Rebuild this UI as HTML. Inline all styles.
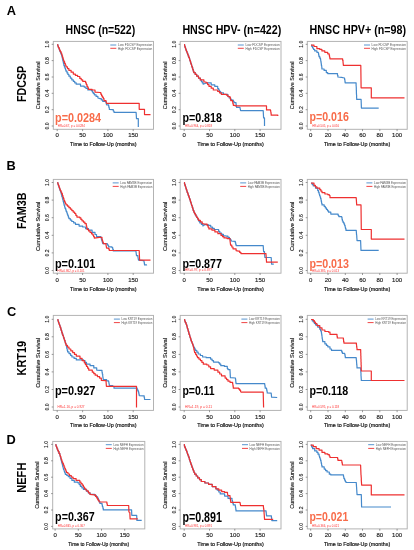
<!DOCTYPE html><html><head><meta charset="utf-8"><style>html,body{margin:0;padding:0;background:#fff;overflow:hidden;}svg{display:block;will-change:transform;filter:blur(0.3px);}text{font-family:"Liberation Sans", sans-serif;}</style></head><body>
<svg width="414" height="550" viewBox="0 0 414 550">
<rect width="414" height="550" fill="#fff"/>
<text x="65.6" y="33.7" font-size="12.9" font-weight="bold" textLength="69.6" lengthAdjust="spacingAndGlyphs">HNSC (n=522)</text>
<text x="182.4" y="33.7" font-size="12.9" font-weight="bold" textLength="98.9" lengthAdjust="spacingAndGlyphs">HNSC HPV- (n=422)</text>
<text x="309.6" y="33.7" font-size="12.9" font-weight="bold" textLength="96.5" lengthAdjust="spacingAndGlyphs">HNSC HPV+ (n=98)</text>
<text x="6.8" y="14.5" font-size="12.8" font-weight="bold">A</text>
<text transform="translate(25.9,83.9) rotate(-90)" x="-18.2" y="0" font-size="12.6" font-weight="bold" textLength="36.3" lengthAdjust="spacingAndGlyphs">FDCSP</text>
<g><rect x="53.3" y="41.4" width="100.2" height="87.9" fill="none" stroke="#b0b0b0" stroke-width="0.95"/><line x1="51.7" y1="126.0" x2="53.3" y2="126.0" stroke="#555" stroke-width="0.6"/><text transform="translate(48.7,126.0) rotate(-90)" x="-3.5" font-size="6.2" textLength="7.0" lengthAdjust="spacingAndGlyphs" fill="#222" stroke="#222" stroke-width="0.15">0.0</text><line x1="51.7" y1="109.7" x2="53.3" y2="109.7" stroke="#555" stroke-width="0.6"/><text transform="translate(48.7,109.7) rotate(-90)" x="-3.5" font-size="6.2" textLength="7.0" lengthAdjust="spacingAndGlyphs" fill="#222" stroke="#222" stroke-width="0.15">0.2</text><line x1="51.7" y1="93.3" x2="53.3" y2="93.3" stroke="#555" stroke-width="0.6"/><text transform="translate(48.7,93.3) rotate(-90)" x="-3.5" font-size="6.2" textLength="7.0" lengthAdjust="spacingAndGlyphs" fill="#222" stroke="#222" stroke-width="0.15">0.4</text><line x1="51.7" y1="77.0" x2="53.3" y2="77.0" stroke="#555" stroke-width="0.6"/><text transform="translate(48.7,77.0) rotate(-90)" x="-3.5" font-size="6.2" textLength="7.0" lengthAdjust="spacingAndGlyphs" fill="#222" stroke="#222" stroke-width="0.15">0.6</text><line x1="51.7" y1="60.6" x2="53.3" y2="60.6" stroke="#555" stroke-width="0.6"/><text transform="translate(48.7,60.6) rotate(-90)" x="-3.5" font-size="6.2" textLength="7.0" lengthAdjust="spacingAndGlyphs" fill="#222" stroke="#222" stroke-width="0.15">0.8</text><line x1="51.7" y1="44.3" x2="53.3" y2="44.3" stroke="#555" stroke-width="0.6"/><text transform="translate(48.7,44.3) rotate(-90)" x="-3.5" font-size="6.2" textLength="7.0" lengthAdjust="spacingAndGlyphs" fill="#222" stroke="#222" stroke-width="0.15">1.0</text><line x1="57.2" y1="129.3" x2="57.2" y2="131.1" stroke="#555" stroke-width="0.6"/><text x="57.2" y="136.9" font-size="6" text-anchor="middle" fill="#222" stroke="#222" stroke-width="0.15">0</text><line x1="82.6" y1="129.3" x2="82.6" y2="131.1" stroke="#555" stroke-width="0.6"/><text x="82.6" y="136.9" font-size="6" text-anchor="middle" fill="#222" stroke="#222" stroke-width="0.15">50</text><line x1="107.9" y1="129.3" x2="107.9" y2="131.1" stroke="#555" stroke-width="0.6"/><text x="107.9" y="136.9" font-size="6" text-anchor="middle" fill="#222" stroke="#222" stroke-width="0.15">100</text><line x1="133.2" y1="129.3" x2="133.2" y2="131.1" stroke="#555" stroke-width="0.6"/><text x="133.2" y="136.9" font-size="6" text-anchor="middle" fill="#222" stroke="#222" stroke-width="0.15">150</text><text x="103.3" y="145.5" font-size="5.4" text-anchor="middle" fill="#111" stroke="#111" stroke-width="0.18" textLength="66.4" lengthAdjust="spacingAndGlyphs">Time to Follow-Up (months)</text><text transform="translate(39.7,85.4) rotate(-90)" font-size="5.5" text-anchor="middle" fill="#222" stroke="#222" stroke-width="0.15" textLength="47.5" lengthAdjust="spacingAndGlyphs">Cumulative Survival</text><line x1="110.3" y1="45.0" x2="116.3" y2="45.0" stroke="#4589cb" stroke-width="0.9"/><line x1="110.3" y1="48.3" x2="116.3" y2="48.3" stroke="#ee3030" stroke-width="0.9"/><text x="117.9" y="46.2" font-size="3.3" textLength="34.4" lengthAdjust="spacingAndGlyphs" fill="#555">Low FDCSP Expression</text><text x="117.9" y="49.5" font-size="3.3" textLength="34.4" lengthAdjust="spacingAndGlyphs" fill="#555">High FDCSP Expression</text><polyline points="57.3,44.6 57.8,44.6 57.8,46.0 58.4,46.0 58.4,47.5 59.0,47.5 59.0,48.9 59.5,48.9 59.5,50.3 60.0,50.3 60.0,51.7 60.6,51.7 60.6,53.1 61.2,53.1 61.2,54.6 61.7,54.6 61.7,56.0 62.1,56.0 62.1,57.6 62.4,57.6 62.4,59.1 62.8,59.1 62.8,60.7 63.2,60.7 63.2,62.3 63.5,62.3 63.5,63.8 63.9,63.8 63.9,65.4 64.4,65.4 64.4,66.9 65.0,66.9 65.0,68.3 65.5,68.3 65.5,69.8 66.0,69.8 66.0,71.2 67.0,71.2 67.0,72.9 67.9,72.9 67.9,74.5 68.9,74.5 68.9,76.2 70.3,76.2 70.3,78.1 71.8,78.1 71.8,79.9 73.3,79.9 73.3,81.3 74.7,81.3 74.7,82.8 76.2,82.8 76.2,84.2 80.5,84.2 80.5,86.1 84.2,86.1 84.2,87.1 86.0,87.1 86.0,88.5 87.8,88.5 87.8,90.0 91.4,90.0 91.4,90.7 92.4,90.7 92.4,92.1 93.3,92.1 93.3,93.4 94.3,93.4 94.3,94.8 96.1,94.8 96.1,96.4 97.9,96.4 97.9,98.0 100.0,98.6 101.3,98.6 101.3,99.9 102.7,99.9 102.7,101.3 106.0,101.3 106.0,102.6 106.6,104.9 108.6,104.9 108.6,105.9 108.9,105.9 108.9,107.6 109.3,107.6 109.3,109.3 112.6,109.7 113.3,109.7 113.3,111.0 114.0,111.0 114.0,112.3 136.1,112.3 136.5,118.6 138.3,118.6 138.3,119.9 138.3,127.0" fill="none" stroke="#4589cb" stroke-width="1.2" stroke-linejoin="round"/><polyline points="57.3,44.6 57.8,44.6 57.8,46.0 58.4,46.0 58.4,47.4 59.0,47.4 59.0,48.7 59.5,48.7 59.5,50.1 60.2,50.1 60.2,51.6 61.0,51.6 61.0,53.0 61.7,53.0 61.7,54.5 62.1,54.5 62.1,55.9 62.6,55.9 62.6,57.4 63.0,57.4 63.0,58.8 63.5,58.8 63.5,60.3 63.9,60.3 63.9,61.7 64.6,61.7 64.6,63.4 65.3,63.4 65.3,65.1 66.0,65.1 66.0,66.8 67.5,66.8 67.5,68.6 68.9,68.6 68.9,70.4 71.1,70.4 71.1,72.2 73.3,72.2 73.3,74.1 75.4,74.1 75.4,75.3 77.6,75.3 77.6,76.5 79.8,76.5 79.8,78.4 81.2,78.4 81.2,79.8 82.7,79.8 82.7,81.3 85.6,81.3 85.6,82.8 86.3,82.8 86.3,84.6 87.0,84.6 87.0,86.4 87.8,86.4 87.8,87.8 88.5,87.8 88.5,89.3 92.1,89.3 92.1,90.0 95.0,90.0 95.0,92.2 100.1,92.5 100.8,92.5 100.8,94.2 101.6,94.2 101.6,95.8 102.4,95.8 102.4,97.2 103.3,97.2 103.3,98.6 104.0,98.6 104.0,100.6 106.0,100.6 106.0,101.3 106.6,103.3 139.2,103.3 139.2,109.3 144.5,109.3 144.5,114.6 150.5,114.6" fill="none" stroke="#ee3030" stroke-width="1.2" stroke-linejoin="round"/><text x="55.1" y="121.6" font-size="13.11" font-weight="bold" fill="#f86c4a" textLength="46.0" lengthAdjust="spacingAndGlyphs">p=0.0284</text><text x="57.8" y="126.9" font-size="2.9" fill="#f33" textLength="27" lengthAdjust="spacingAndGlyphs">HR=0.67, p = 0.0284</text></g>
<g><rect x="180.2" y="41.4" width="100.8" height="87.9" fill="none" stroke="#b0b0b0" stroke-width="0.95"/><line x1="178.6" y1="126.0" x2="180.2" y2="126.0" stroke="#555" stroke-width="0.6"/><text transform="translate(175.6,126.0) rotate(-90)" x="-3.5" font-size="6.2" textLength="7.0" lengthAdjust="spacingAndGlyphs" fill="#222" stroke="#222" stroke-width="0.15">0.0</text><line x1="178.6" y1="109.7" x2="180.2" y2="109.7" stroke="#555" stroke-width="0.6"/><text transform="translate(175.6,109.7) rotate(-90)" x="-3.5" font-size="6.2" textLength="7.0" lengthAdjust="spacingAndGlyphs" fill="#222" stroke="#222" stroke-width="0.15">0.2</text><line x1="178.6" y1="93.3" x2="180.2" y2="93.3" stroke="#555" stroke-width="0.6"/><text transform="translate(175.6,93.3) rotate(-90)" x="-3.5" font-size="6.2" textLength="7.0" lengthAdjust="spacingAndGlyphs" fill="#222" stroke="#222" stroke-width="0.15">0.4</text><line x1="178.6" y1="77.0" x2="180.2" y2="77.0" stroke="#555" stroke-width="0.6"/><text transform="translate(175.6,77.0) rotate(-90)" x="-3.5" font-size="6.2" textLength="7.0" lengthAdjust="spacingAndGlyphs" fill="#222" stroke="#222" stroke-width="0.15">0.6</text><line x1="178.6" y1="60.6" x2="180.2" y2="60.6" stroke="#555" stroke-width="0.6"/><text transform="translate(175.6,60.6) rotate(-90)" x="-3.5" font-size="6.2" textLength="7.0" lengthAdjust="spacingAndGlyphs" fill="#222" stroke="#222" stroke-width="0.15">0.8</text><line x1="178.6" y1="44.3" x2="180.2" y2="44.3" stroke="#555" stroke-width="0.6"/><text transform="translate(175.6,44.3) rotate(-90)" x="-3.5" font-size="6.2" textLength="7.0" lengthAdjust="spacingAndGlyphs" fill="#222" stroke="#222" stroke-width="0.15">1.0</text><line x1="184.2" y1="129.3" x2="184.2" y2="131.1" stroke="#555" stroke-width="0.6"/><text x="184.2" y="136.9" font-size="6" text-anchor="middle" fill="#222" stroke="#222" stroke-width="0.15">0</text><line x1="209.5" y1="129.3" x2="209.5" y2="131.1" stroke="#555" stroke-width="0.6"/><text x="209.5" y="136.9" font-size="6" text-anchor="middle" fill="#222" stroke="#222" stroke-width="0.15">50</text><line x1="234.8" y1="129.3" x2="234.8" y2="131.1" stroke="#555" stroke-width="0.6"/><text x="234.8" y="136.9" font-size="6" text-anchor="middle" fill="#222" stroke="#222" stroke-width="0.15">100</text><line x1="260.1" y1="129.3" x2="260.1" y2="131.1" stroke="#555" stroke-width="0.6"/><text x="260.1" y="136.9" font-size="6" text-anchor="middle" fill="#222" stroke="#222" stroke-width="0.15">150</text><text x="230.5" y="145.5" font-size="5.4" text-anchor="middle" fill="#111" stroke="#111" stroke-width="0.18" textLength="66.4" lengthAdjust="spacingAndGlyphs">Time to Follow-Up (months)</text><text transform="translate(166.6,85.4) rotate(-90)" font-size="5.5" text-anchor="middle" fill="#222" stroke="#222" stroke-width="0.15" textLength="47.5" lengthAdjust="spacingAndGlyphs">Cumulative Survival</text><line x1="237.8" y1="45.0" x2="243.8" y2="45.0" stroke="#4589cb" stroke-width="0.9"/><line x1="237.8" y1="48.3" x2="243.8" y2="48.3" stroke="#ee3030" stroke-width="0.9"/><text x="245.4" y="46.2" font-size="3.3" textLength="34.4" lengthAdjust="spacingAndGlyphs" fill="#555">Low FDCSP Expression</text><text x="245.4" y="49.5" font-size="3.3" textLength="34.4" lengthAdjust="spacingAndGlyphs" fill="#555">High FDCSP Expression</text><polyline points="184.1,44.6 184.6,44.6 184.6,46.0 185.1,46.0 185.1,47.4 185.5,47.4 185.5,48.8 186.0,48.8 186.0,50.2 186.5,50.2 186.5,51.6 187.1,51.6 187.1,53.0 187.7,53.0 187.7,54.5 188.2,54.5 188.2,55.9 188.8,55.9 188.8,57.4 189.4,57.4 189.4,58.8 189.8,58.8 189.8,60.3 190.3,60.3 190.3,61.7 190.7,61.7 190.7,63.2 191.2,63.2 191.2,64.6 191.6,64.6 191.6,66.1 192.2,66.1 192.2,67.7 192.7,67.7 192.7,69.3 193.2,69.3 193.2,71.0 193.8,71.0 193.8,72.6 195.2,72.6 195.2,74.4 196.7,74.4 196.7,76.2 198.5,76.2 198.5,78.1 200.3,78.1 200.3,79.9 201.3,79.9 201.3,81.3 202.2,81.3 202.2,82.8 203.2,82.8 203.2,84.2 206.8,82.8 211.2,82.8 211.2,84.9 214.8,84.9 214.8,86.4 217.7,86.4 217.7,88.6 218.7,88.6 218.7,90.0 219.6,90.0 219.6,91.5 220.6,91.5 220.6,92.9 223.5,92.9 223.5,94.3 227.8,94.3 227.8,96.5 229.2,96.5 229.2,98.0 230.7,98.0 230.7,99.4 232.6,100.0 233.3,100.0 233.3,101.3 234.0,101.3 234.0,102.6 236.0,102.6 236.0,103.3 236.6,107.3 240.0,107.3 240.0,107.9 240.6,110.6 263.2,110.6 263.6,117.9 264.5,117.9 264.5,118.6 264.5,125.9" fill="none" stroke="#4589cb" stroke-width="1.2" stroke-linejoin="round"/><polyline points="184.1,44.6 184.6,44.6 184.6,46.0 185.1,46.0 185.1,47.4 185.5,47.4 185.5,48.8 186.0,48.8 186.0,50.2 186.5,50.2 186.5,51.6 187.1,51.6 187.1,53.0 187.7,53.0 187.7,54.5 188.2,54.5 188.2,55.9 188.8,55.9 188.8,57.4 189.4,57.4 189.4,58.8 189.8,58.8 189.8,60.3 190.3,60.3 190.3,61.7 190.7,61.7 190.7,63.2 191.2,63.2 191.2,64.6 191.6,64.6 191.6,66.1 192.2,66.1 192.2,67.7 192.7,67.7 192.7,69.3 193.2,69.3 193.2,71.0 193.8,71.0 193.8,72.6 195.2,72.6 195.2,74.4 196.7,74.4 196.7,76.2 198.5,76.2 198.5,78.1 200.3,78.1 200.3,79.9 203.9,79.9 203.9,82.0 206.1,82.0 206.1,82.8 207.6,82.8 207.6,84.6 209.0,84.6 209.0,86.4 211.2,86.4 211.2,88.2 213.3,88.2 213.3,90.0 217.7,90.0 217.7,91.4 219.5,91.4 219.5,92.8 221.3,92.8 221.3,94.3 226.4,94.3 226.4,95.1 228.0,95.1 228.0,96.6 230.0,96.6 230.0,97.3 230.3,97.3 230.3,98.9 230.7,98.9 230.7,100.6 232.6,100.6 232.6,102.0 232.9,102.0 232.9,103.7 233.3,103.7 233.3,105.3 235.3,105.3 235.3,105.9 266.5,105.9 266.5,109.9 270.5,109.9 270.5,110.6 270.7,110.6 270.7,112.1 271.0,112.1 271.0,113.7 271.2,113.7 271.2,115.2 277.8,115.2 277.8,115.9" fill="none" stroke="#ee3030" stroke-width="1.2" stroke-linejoin="round"/><text x="182.4" y="121.7" font-size="12.81" font-weight="bold" fill="#000" textLength="39.6" lengthAdjust="spacingAndGlyphs">p=0.818</text><text x="185.1" y="126.9" font-size="2.9" fill="#f33" textLength="27" lengthAdjust="spacingAndGlyphs">HR=0.964, p = 0.818</text></g>
<g><rect x="307.3" y="41.4" width="99.9" height="87.9" fill="none" stroke="#b0b0b0" stroke-width="0.95"/><line x1="305.7" y1="126.0" x2="307.3" y2="126.0" stroke="#555" stroke-width="0.6"/><text transform="translate(302.7,126.0) rotate(-90)" x="-3.5" font-size="6.2" textLength="7.0" lengthAdjust="spacingAndGlyphs" fill="#222" stroke="#222" stroke-width="0.15">0.0</text><line x1="305.7" y1="109.7" x2="307.3" y2="109.7" stroke="#555" stroke-width="0.6"/><text transform="translate(302.7,109.7) rotate(-90)" x="-3.5" font-size="6.2" textLength="7.0" lengthAdjust="spacingAndGlyphs" fill="#222" stroke="#222" stroke-width="0.15">0.2</text><line x1="305.7" y1="93.3" x2="307.3" y2="93.3" stroke="#555" stroke-width="0.6"/><text transform="translate(302.7,93.3) rotate(-90)" x="-3.5" font-size="6.2" textLength="7.0" lengthAdjust="spacingAndGlyphs" fill="#222" stroke="#222" stroke-width="0.15">0.4</text><line x1="305.7" y1="77.0" x2="307.3" y2="77.0" stroke="#555" stroke-width="0.6"/><text transform="translate(302.7,77.0) rotate(-90)" x="-3.5" font-size="6.2" textLength="7.0" lengthAdjust="spacingAndGlyphs" fill="#222" stroke="#222" stroke-width="0.15">0.6</text><line x1="305.7" y1="60.6" x2="307.3" y2="60.6" stroke="#555" stroke-width="0.6"/><text transform="translate(302.7,60.6) rotate(-90)" x="-3.5" font-size="6.2" textLength="7.0" lengthAdjust="spacingAndGlyphs" fill="#222" stroke="#222" stroke-width="0.15">0.8</text><line x1="305.7" y1="44.3" x2="307.3" y2="44.3" stroke="#555" stroke-width="0.6"/><text transform="translate(302.7,44.3) rotate(-90)" x="-3.5" font-size="6.2" textLength="7.0" lengthAdjust="spacingAndGlyphs" fill="#222" stroke="#222" stroke-width="0.15">1.0</text><line x1="310.7" y1="129.3" x2="310.7" y2="131.1" stroke="#555" stroke-width="0.6"/><text x="310.7" y="136.9" font-size="6" text-anchor="middle" fill="#222" stroke="#222" stroke-width="0.15">0</text><line x1="328.0" y1="129.3" x2="328.0" y2="131.1" stroke="#555" stroke-width="0.6"/><text x="328.0" y="136.9" font-size="6" text-anchor="middle" fill="#222" stroke="#222" stroke-width="0.15">20</text><line x1="345.3" y1="129.3" x2="345.3" y2="131.1" stroke="#555" stroke-width="0.6"/><text x="345.3" y="136.9" font-size="6" text-anchor="middle" fill="#222" stroke="#222" stroke-width="0.15">40</text><line x1="362.5" y1="129.3" x2="362.5" y2="131.1" stroke="#555" stroke-width="0.6"/><text x="362.5" y="136.9" font-size="6" text-anchor="middle" fill="#222" stroke="#222" stroke-width="0.15">60</text><line x1="379.8" y1="129.3" x2="379.8" y2="131.1" stroke="#555" stroke-width="0.6"/><text x="379.8" y="136.9" font-size="6" text-anchor="middle" fill="#222" stroke="#222" stroke-width="0.15">80</text><line x1="397.1" y1="129.3" x2="397.1" y2="131.1" stroke="#555" stroke-width="0.6"/><text x="397.1" y="136.9" font-size="6" text-anchor="middle" fill="#222" stroke="#222" stroke-width="0.15">100</text><text x="357.1" y="145.5" font-size="5.4" text-anchor="middle" fill="#111" stroke="#111" stroke-width="0.18" textLength="66.4" lengthAdjust="spacingAndGlyphs">Time to Follow-Up (months)</text><text transform="translate(293.7,85.4) rotate(-90)" font-size="5.5" text-anchor="middle" fill="#222" stroke="#222" stroke-width="0.15" textLength="47.5" lengthAdjust="spacingAndGlyphs">Cumulative Survival</text><line x1="364.0" y1="45.0" x2="370.0" y2="45.0" stroke="#4589cb" stroke-width="0.9"/><line x1="364.0" y1="48.3" x2="370.0" y2="48.3" stroke="#ee3030" stroke-width="0.9"/><text x="371.6" y="46.2" font-size="3.3" textLength="34.4" lengthAdjust="spacingAndGlyphs" fill="#555">Low FDCSP Expression</text><text x="371.6" y="49.5" font-size="3.3" textLength="34.4" lengthAdjust="spacingAndGlyphs" fill="#555">High FDCSP Expression</text><polyline points="311.1,45.1 311.8,45.1 311.8,46.5 312.5,46.5 312.5,48.0 313.6,48.0 313.6,49.5 314.7,49.5 314.7,50.9 316.9,50.9 316.9,52.3 318.3,52.3 318.3,53.0 318.6,53.0 318.6,54.9 319.0,54.9 319.0,56.7 319.8,56.7 319.8,58.2 320.5,58.2 320.5,59.6 320.7,59.6 320.7,61.0 321.0,61.0 321.0,62.5 321.2,62.5 321.2,63.9 321.4,63.9 321.4,65.6 321.7,65.6 321.7,67.3 321.9,67.3 321.9,69.0 324.1,69.0 324.1,70.4 326.3,70.4 326.3,72.6 327.7,72.6 327.7,73.6 337.2,73.6 337.5,73.6 337.5,75.3 337.9,75.3 337.9,77.0 341.5,77.4 344.4,78.0 344.6,78.0 344.6,79.6 344.9,79.6 344.9,81.2 345.1,81.2 345.1,82.8 356.0,82.8 356.1,82.8 356.1,84.3 356.1,84.3 356.1,85.8 356.2,85.8 356.2,87.3 356.3,87.3 356.3,88.8 356.3,88.8 356.3,90.3 356.4,90.3 356.4,91.9 356.4,91.9 356.4,93.4 356.5,93.4 356.5,94.9 356.6,94.9 356.6,96.4 356.6,96.4 356.6,97.9 356.7,97.9 356.7,99.4 361.1,99.4 361.4,108.1 378.7,108.1" fill="none" stroke="#4589cb" stroke-width="1.2" stroke-linejoin="round"/><polyline points="311.1,45.1 314.0,45.1 314.0,46.5 316.9,46.5 316.9,48.7 319.8,48.7 319.8,49.4 321.9,49.4 321.9,50.9 324.8,50.9 324.8,52.3 327.7,52.3 327.7,53.8 329.2,53.8 329.2,55.2 329.5,55.2 329.5,57.0 329.9,57.0 329.9,58.8 342.2,58.8 342.6,58.8 342.6,60.2 343.0,60.2 343.0,61.7 343.4,65.4 360.8,65.4 361.1,87.8 371.3,87.8 371.3,97.9 404.5,97.9" fill="none" stroke="#ee3030" stroke-width="1.2" stroke-linejoin="round"/><text x="309.5" y="121.3" font-size="12.50" font-weight="bold" fill="#f86c4a" textLength="39.3" lengthAdjust="spacingAndGlyphs">p=0.016</text><text x="312.2" y="126.9" font-size="2.9" fill="#f33" textLength="27" lengthAdjust="spacingAndGlyphs">HR=0.505, p = 0.016</text></g>
<text x="6.6" y="170.0" font-size="12.8" font-weight="bold">B</text>
<text transform="translate(25.9,210.7) rotate(-90)" x="-18.3" y="0" font-size="12.6" font-weight="bold" textLength="36.6" lengthAdjust="spacingAndGlyphs">FAM3B</text>
<g><rect x="53.3" y="179.4" width="100.2" height="93.8" fill="none" stroke="#b0b0b0" stroke-width="0.95"/><line x1="51.7" y1="270.5" x2="53.3" y2="270.5" stroke="#555" stroke-width="0.6"/><text transform="translate(48.7,270.5) rotate(-90)" x="-3.5" font-size="6.2" textLength="7.0" lengthAdjust="spacingAndGlyphs" fill="#222" stroke="#222" stroke-width="0.15">0.0</text><line x1="51.7" y1="252.9" x2="53.3" y2="252.9" stroke="#555" stroke-width="0.6"/><text transform="translate(48.7,252.9) rotate(-90)" x="-3.5" font-size="6.2" textLength="7.0" lengthAdjust="spacingAndGlyphs" fill="#222" stroke="#222" stroke-width="0.15">0.2</text><line x1="51.7" y1="235.3" x2="53.3" y2="235.3" stroke="#555" stroke-width="0.6"/><text transform="translate(48.7,235.3) rotate(-90)" x="-3.5" font-size="6.2" textLength="7.0" lengthAdjust="spacingAndGlyphs" fill="#222" stroke="#222" stroke-width="0.15">0.4</text><line x1="51.7" y1="217.7" x2="53.3" y2="217.7" stroke="#555" stroke-width="0.6"/><text transform="translate(48.7,217.7) rotate(-90)" x="-3.5" font-size="6.2" textLength="7.0" lengthAdjust="spacingAndGlyphs" fill="#222" stroke="#222" stroke-width="0.15">0.6</text><line x1="51.7" y1="200.1" x2="53.3" y2="200.1" stroke="#555" stroke-width="0.6"/><text transform="translate(48.7,200.1) rotate(-90)" x="-3.5" font-size="6.2" textLength="7.0" lengthAdjust="spacingAndGlyphs" fill="#222" stroke="#222" stroke-width="0.15">0.8</text><line x1="51.7" y1="182.5" x2="53.3" y2="182.5" stroke="#555" stroke-width="0.6"/><text transform="translate(48.7,182.5) rotate(-90)" x="-3.5" font-size="6.2" textLength="7.0" lengthAdjust="spacingAndGlyphs" fill="#222" stroke="#222" stroke-width="0.15">1.0</text><line x1="57.2" y1="273.2" x2="57.2" y2="275.0" stroke="#555" stroke-width="0.6"/><text x="57.2" y="281.8" font-size="6" text-anchor="middle" fill="#222" stroke="#222" stroke-width="0.15">0</text><line x1="82.6" y1="273.2" x2="82.6" y2="275.0" stroke="#555" stroke-width="0.6"/><text x="82.6" y="281.8" font-size="6" text-anchor="middle" fill="#222" stroke="#222" stroke-width="0.15">50</text><line x1="107.9" y1="273.2" x2="107.9" y2="275.0" stroke="#555" stroke-width="0.6"/><text x="107.9" y="281.8" font-size="6" text-anchor="middle" fill="#222" stroke="#222" stroke-width="0.15">100</text><line x1="133.2" y1="273.2" x2="133.2" y2="275.0" stroke="#555" stroke-width="0.6"/><text x="133.2" y="281.8" font-size="6" text-anchor="middle" fill="#222" stroke="#222" stroke-width="0.15">150</text><text x="103.3" y="291.0" font-size="5.4" text-anchor="middle" fill="#111" stroke="#111" stroke-width="0.18" textLength="66.4" lengthAdjust="spacingAndGlyphs">Time to Follow-Up (months)</text><text transform="translate(39.7,226.3) rotate(-90)" font-size="5.5" text-anchor="middle" fill="#222" stroke="#222" stroke-width="0.15" textLength="49.2" lengthAdjust="spacingAndGlyphs">Cumulative Survival</text><line x1="112.7" y1="182.9" x2="118.7" y2="182.9" stroke="#4589cb" stroke-width="0.9"/><line x1="112.7" y1="186.4" x2="118.7" y2="186.4" stroke="#ee3030" stroke-width="0.9"/><text x="120.3" y="184.1" font-size="3.3" textLength="32.0" lengthAdjust="spacingAndGlyphs" fill="#555">Low FAM3B Expression</text><text x="120.3" y="187.6" font-size="3.3" textLength="32.0" lengthAdjust="spacingAndGlyphs" fill="#555">High FAM3B Expression</text><polyline points="57.3,182.6 57.8,182.6 57.8,184.1 58.4,184.1 58.4,185.6 58.9,185.6 58.9,187.1 59.4,187.1 59.4,188.7 59.9,188.7 59.9,190.2 60.5,190.2 60.5,191.7 61.0,191.7 61.0,193.2 61.4,193.2 61.4,194.8 61.8,194.8 61.8,196.4 62.3,196.4 62.3,198.0 62.7,198.0 62.7,199.6 63.1,199.6 63.1,201.2 63.5,201.2 63.5,202.6 63.8,202.6 63.8,204.1 64.2,204.1 64.2,205.6 64.6,205.6 64.6,207.0 65.1,207.0 65.1,208.4 65.7,208.4 65.7,209.9 66.2,209.9 66.2,211.4 66.8,211.4 66.8,212.8 67.3,212.8 67.3,214.2 67.8,214.2 67.8,215.7 68.4,215.7 68.4,217.2 68.9,217.2 68.9,218.6 70.3,218.6 70.3,220.1 71.8,220.1 71.8,221.5 73.7,221.5 73.7,222.9 75.5,222.9 75.5,224.4 79.1,224.4 79.1,226.1 82.7,226.1 82.7,227.0 85.6,227.0 85.6,228.7 88.5,228.7 88.5,230.2 92.1,230.2 92.1,232.3 95.0,232.3 95.0,234.5 96.5,234.5 96.5,236.7 100.8,236.7 100.8,237.4 101.3,237.4 101.3,238.9 101.8,238.9 101.8,240.5 102.2,240.5 102.2,242.1 102.7,242.1 102.7,243.6 107.3,243.6 107.3,244.3 107.9,244.3 107.9,245.6 108.6,245.6 108.6,246.9 112.0,246.9 112.0,247.6 112.7,247.6 112.7,249.2 113.3,249.2 113.3,250.9 135.9,250.9 136.5,255.6 137.9,255.6 137.9,256.9 138.5,260.2 143.8,260.6 144.0,260.6 144.0,262.0 144.3,262.0 144.3,263.5 144.5,263.5 144.5,264.9 146.5,264.9 146.5,265.5" fill="none" stroke="#4589cb" stroke-width="1.2" stroke-linejoin="round"/><polyline points="57.3,182.6 57.9,182.6 57.9,184.1 58.5,184.1 58.5,185.7 59.0,185.7 59.0,187.2 59.6,187.2 59.6,188.8 60.2,188.8 60.2,190.3 60.9,190.3 60.9,192.0 61.7,192.0 61.7,193.7 62.4,193.7 62.4,195.4 62.9,195.4 62.9,197.0 63.5,197.0 63.5,198.7 64.0,198.7 64.0,200.3 64.6,200.3 64.6,201.9 65.3,201.9 65.3,203.4 66.0,203.4 66.0,204.8 67.5,204.8 67.5,206.2 68.9,206.2 68.9,207.7 70.3,207.7 70.3,209.1 71.8,209.1 71.8,210.6 73.2,210.6 73.2,212.1 74.7,212.1 74.7,213.5 75.8,213.5 75.8,215.3 76.9,215.3 76.9,217.1 79.8,217.1 79.8,217.9 80.9,217.9 80.9,219.4 82.0,219.4 82.0,220.8 83.5,220.8 83.5,222.2 84.9,222.2 84.9,223.7 86.3,223.7 86.3,225.8 86.7,225.8 86.7,227.6 87.1,227.6 87.1,229.4 88.5,229.4 88.5,230.9 90.0,230.9 90.0,232.3 91.5,232.3 91.5,233.8 92.9,233.8 92.9,235.2 93.6,235.2 93.6,236.6 94.3,236.6 94.3,238.1 99.4,237.4 102.0,237.4 102.0,239.6 102.4,239.6 102.4,240.9 102.9,240.9 102.9,242.3 103.3,242.3 103.3,243.6 106.0,243.6 106.0,244.9 106.6,248.2 108.6,248.2 108.6,248.9 109.3,248.9 109.3,250.5 139.2,250.5 139.6,260.2 150.5,260.2" fill="none" stroke="#ee3030" stroke-width="1.2" stroke-linejoin="round"/><text x="54.9" y="267.6" font-size="12.96" font-weight="bold" fill="#000" textLength="40.4" lengthAdjust="spacingAndGlyphs">p=0.101</text><text x="57.6" y="271.6" font-size="2.9" fill="#f33" textLength="27" lengthAdjust="spacingAndGlyphs">HR=0.862, p = 0.101</text></g>
<g><rect x="180.2" y="179.4" width="100.8" height="93.8" fill="none" stroke="#b0b0b0" stroke-width="0.95"/><line x1="178.6" y1="270.5" x2="180.2" y2="270.5" stroke="#555" stroke-width="0.6"/><text transform="translate(175.6,270.5) rotate(-90)" x="-3.5" font-size="6.2" textLength="7.0" lengthAdjust="spacingAndGlyphs" fill="#222" stroke="#222" stroke-width="0.15">0.0</text><line x1="178.6" y1="252.9" x2="180.2" y2="252.9" stroke="#555" stroke-width="0.6"/><text transform="translate(175.6,252.9) rotate(-90)" x="-3.5" font-size="6.2" textLength="7.0" lengthAdjust="spacingAndGlyphs" fill="#222" stroke="#222" stroke-width="0.15">0.2</text><line x1="178.6" y1="235.3" x2="180.2" y2="235.3" stroke="#555" stroke-width="0.6"/><text transform="translate(175.6,235.3) rotate(-90)" x="-3.5" font-size="6.2" textLength="7.0" lengthAdjust="spacingAndGlyphs" fill="#222" stroke="#222" stroke-width="0.15">0.4</text><line x1="178.6" y1="217.7" x2="180.2" y2="217.7" stroke="#555" stroke-width="0.6"/><text transform="translate(175.6,217.7) rotate(-90)" x="-3.5" font-size="6.2" textLength="7.0" lengthAdjust="spacingAndGlyphs" fill="#222" stroke="#222" stroke-width="0.15">0.6</text><line x1="178.6" y1="200.1" x2="180.2" y2="200.1" stroke="#555" stroke-width="0.6"/><text transform="translate(175.6,200.1) rotate(-90)" x="-3.5" font-size="6.2" textLength="7.0" lengthAdjust="spacingAndGlyphs" fill="#222" stroke="#222" stroke-width="0.15">0.8</text><line x1="178.6" y1="182.5" x2="180.2" y2="182.5" stroke="#555" stroke-width="0.6"/><text transform="translate(175.6,182.5) rotate(-90)" x="-3.5" font-size="6.2" textLength="7.0" lengthAdjust="spacingAndGlyphs" fill="#222" stroke="#222" stroke-width="0.15">1.0</text><line x1="184.2" y1="273.2" x2="184.2" y2="275.0" stroke="#555" stroke-width="0.6"/><text x="184.2" y="281.8" font-size="6" text-anchor="middle" fill="#222" stroke="#222" stroke-width="0.15">0</text><line x1="209.5" y1="273.2" x2="209.5" y2="275.0" stroke="#555" stroke-width="0.6"/><text x="209.5" y="281.8" font-size="6" text-anchor="middle" fill="#222" stroke="#222" stroke-width="0.15">50</text><line x1="234.8" y1="273.2" x2="234.8" y2="275.0" stroke="#555" stroke-width="0.6"/><text x="234.8" y="281.8" font-size="6" text-anchor="middle" fill="#222" stroke="#222" stroke-width="0.15">100</text><line x1="260.1" y1="273.2" x2="260.1" y2="275.0" stroke="#555" stroke-width="0.6"/><text x="260.1" y="281.8" font-size="6" text-anchor="middle" fill="#222" stroke="#222" stroke-width="0.15">150</text><text x="230.5" y="291.0" font-size="5.4" text-anchor="middle" fill="#111" stroke="#111" stroke-width="0.18" textLength="66.4" lengthAdjust="spacingAndGlyphs">Time to Follow-Up (months)</text><text transform="translate(166.6,226.3) rotate(-90)" font-size="5.5" text-anchor="middle" fill="#222" stroke="#222" stroke-width="0.15" textLength="49.2" lengthAdjust="spacingAndGlyphs">Cumulative Survival</text><line x1="240.2" y1="182.9" x2="246.2" y2="182.9" stroke="#4589cb" stroke-width="0.9"/><line x1="240.2" y1="186.4" x2="246.2" y2="186.4" stroke="#ee3030" stroke-width="0.9"/><text x="247.8" y="184.1" font-size="3.3" textLength="32.0" lengthAdjust="spacingAndGlyphs" fill="#555">Low FAM3B Expression</text><text x="247.8" y="187.6" font-size="3.3" textLength="32.0" lengthAdjust="spacingAndGlyphs" fill="#555">High FAM3B Expression</text><polyline points="184.1,182.6 184.5,182.6 184.5,184.0 185.0,184.0 185.0,185.4 185.4,185.4 185.4,186.8 185.9,186.8 185.9,188.3 186.3,188.3 186.3,189.7 186.8,189.7 186.8,191.1 187.2,191.1 187.2,192.5 187.8,192.5 187.8,193.9 188.3,193.9 188.3,195.4 188.8,195.4 188.8,196.9 189.4,196.9 189.4,198.3 189.8,198.3 189.8,199.7 190.3,199.7 190.3,201.2 190.7,201.2 190.7,202.6 191.2,202.6 191.2,204.1 191.6,204.1 191.6,205.5 192.2,205.5 192.2,207.2 192.7,207.2 192.7,208.8 193.2,208.8 193.2,210.4 193.8,210.4 193.8,212.1 194.5,212.1 194.5,213.4 195.2,213.4 195.2,214.7 195.9,214.7 195.9,216.0 196.7,216.0 196.7,217.4 197.5,217.4 197.5,218.8 198.2,218.8 198.2,220.1 199.0,220.1 199.0,221.5 199.8,221.5 199.8,222.9 201.4,222.9 201.4,224.4 202.9,224.4 202.9,225.9 204.7,224.7 208.3,224.7 208.3,225.3 210.7,225.3 210.7,227.1 212.5,227.1 212.5,228.3 214.3,228.3 214.3,229.5 217.3,229.5 218.6,229.5 218.6,231.3 219.8,231.3 219.8,233.1 221.6,233.1 221.6,234.3 223.4,234.3 223.4,235.5 226.4,236.1 227.9,236.1 227.9,237.3 229.4,237.3 229.4,238.6 230.3,238.6 230.3,239.8 231.2,239.8 231.2,241.0 234.9,241.3 235.3,241.3 235.3,242.7 235.7,242.7 235.7,244.2 236.1,244.2 236.1,245.6 263.2,245.6 263.6,251.6 264.5,251.6 264.5,253.6 264.9,257.5 271.2,257.5 271.6,264.2 273.8,264.2" fill="none" stroke="#4589cb" stroke-width="1.2" stroke-linejoin="round"/><polyline points="184.1,182.6 184.5,182.6 184.5,184.0 185.0,184.0 185.0,185.4 185.4,185.4 185.4,186.8 185.9,186.8 185.9,188.3 186.3,188.3 186.3,189.7 186.8,189.7 186.8,191.1 187.2,191.1 187.2,192.5 187.8,192.5 187.8,193.9 188.3,193.9 188.3,195.4 188.8,195.4 188.8,196.9 189.4,196.9 189.4,198.3 189.8,198.3 189.8,199.7 190.3,199.7 190.3,201.2 190.7,201.2 190.7,202.6 191.2,202.6 191.2,204.1 191.6,204.1 191.6,205.5 192.2,205.5 192.2,207.2 192.7,207.2 192.7,208.8 193.2,208.8 193.2,210.4 193.8,210.4 193.8,212.1 194.5,212.1 194.5,213.4 195.2,213.4 195.2,214.7 195.9,214.7 195.9,216.0 196.8,216.0 196.8,217.5 197.7,217.5 197.7,218.9 198.6,218.9 198.6,220.4 200.4,220.4 200.4,221.9 202.2,221.9 202.2,223.5 204.7,224.1 207.1,224.1 207.1,225.3 208.0,225.3 208.0,227.1 208.9,227.1 208.9,228.9 211.9,228.9 211.9,230.1 214.9,230.1 214.9,231.9 217.9,231.9 217.9,233.7 221.0,233.7 221.0,235.5 222.5,235.5 222.5,236.7 224.0,236.7 224.0,237.9 227.0,237.9 227.0,238.6 230.0,238.6 230.0,240.4 230.6,245.2 231.8,245.2 231.8,247.0 233.0,247.0 233.0,248.8 236.1,248.8 236.1,250.6 238.5,251.2 239.7,251.2 239.7,252.4 240.9,252.4 240.9,253.6 265.9,253.6 266.0,253.6 266.0,255.0 266.1,255.0 266.1,256.5 266.2,256.5 266.2,257.9 266.3,257.9 266.3,259.3 266.4,259.3 266.4,260.8 266.5,260.8 266.5,262.2 277.8,262.2" fill="none" stroke="#ee3030" stroke-width="1.2" stroke-linejoin="round"/><text x="182.4" y="267.6" font-size="12.50" font-weight="bold" fill="#000" textLength="39.6" lengthAdjust="spacingAndGlyphs">p=0.877</text><text x="185.1" y="271.4" font-size="2.9" fill="#f33" textLength="27" lengthAdjust="spacingAndGlyphs">HR=0.97, p = 0.877</text></g>
<g><rect x="307.3" y="179.4" width="99.9" height="93.8" fill="none" stroke="#b0b0b0" stroke-width="0.95"/><line x1="305.7" y1="270.5" x2="307.3" y2="270.5" stroke="#555" stroke-width="0.6"/><text transform="translate(302.7,270.5) rotate(-90)" x="-3.5" font-size="6.2" textLength="7.0" lengthAdjust="spacingAndGlyphs" fill="#222" stroke="#222" stroke-width="0.15">0.0</text><line x1="305.7" y1="252.9" x2="307.3" y2="252.9" stroke="#555" stroke-width="0.6"/><text transform="translate(302.7,252.9) rotate(-90)" x="-3.5" font-size="6.2" textLength="7.0" lengthAdjust="spacingAndGlyphs" fill="#222" stroke="#222" stroke-width="0.15">0.2</text><line x1="305.7" y1="235.3" x2="307.3" y2="235.3" stroke="#555" stroke-width="0.6"/><text transform="translate(302.7,235.3) rotate(-90)" x="-3.5" font-size="6.2" textLength="7.0" lengthAdjust="spacingAndGlyphs" fill="#222" stroke="#222" stroke-width="0.15">0.4</text><line x1="305.7" y1="217.7" x2="307.3" y2="217.7" stroke="#555" stroke-width="0.6"/><text transform="translate(302.7,217.7) rotate(-90)" x="-3.5" font-size="6.2" textLength="7.0" lengthAdjust="spacingAndGlyphs" fill="#222" stroke="#222" stroke-width="0.15">0.6</text><line x1="305.7" y1="200.1" x2="307.3" y2="200.1" stroke="#555" stroke-width="0.6"/><text transform="translate(302.7,200.1) rotate(-90)" x="-3.5" font-size="6.2" textLength="7.0" lengthAdjust="spacingAndGlyphs" fill="#222" stroke="#222" stroke-width="0.15">0.8</text><line x1="305.7" y1="182.5" x2="307.3" y2="182.5" stroke="#555" stroke-width="0.6"/><text transform="translate(302.7,182.5) rotate(-90)" x="-3.5" font-size="6.2" textLength="7.0" lengthAdjust="spacingAndGlyphs" fill="#222" stroke="#222" stroke-width="0.15">1.0</text><line x1="310.7" y1="273.2" x2="310.7" y2="275.0" stroke="#555" stroke-width="0.6"/><text x="310.7" y="281.8" font-size="6" text-anchor="middle" fill="#222" stroke="#222" stroke-width="0.15">0</text><line x1="328.0" y1="273.2" x2="328.0" y2="275.0" stroke="#555" stroke-width="0.6"/><text x="328.0" y="281.8" font-size="6" text-anchor="middle" fill="#222" stroke="#222" stroke-width="0.15">20</text><line x1="345.3" y1="273.2" x2="345.3" y2="275.0" stroke="#555" stroke-width="0.6"/><text x="345.3" y="281.8" font-size="6" text-anchor="middle" fill="#222" stroke="#222" stroke-width="0.15">40</text><line x1="362.5" y1="273.2" x2="362.5" y2="275.0" stroke="#555" stroke-width="0.6"/><text x="362.5" y="281.8" font-size="6" text-anchor="middle" fill="#222" stroke="#222" stroke-width="0.15">60</text><line x1="379.8" y1="273.2" x2="379.8" y2="275.0" stroke="#555" stroke-width="0.6"/><text x="379.8" y="281.8" font-size="6" text-anchor="middle" fill="#222" stroke="#222" stroke-width="0.15">80</text><line x1="397.1" y1="273.2" x2="397.1" y2="275.0" stroke="#555" stroke-width="0.6"/><text x="397.1" y="281.8" font-size="6" text-anchor="middle" fill="#222" stroke="#222" stroke-width="0.15">100</text><text x="357.1" y="291.0" font-size="5.4" text-anchor="middle" fill="#111" stroke="#111" stroke-width="0.18" textLength="66.4" lengthAdjust="spacingAndGlyphs">Time to Follow-Up (months)</text><text transform="translate(293.7,226.3) rotate(-90)" font-size="5.5" text-anchor="middle" fill="#222" stroke="#222" stroke-width="0.15" textLength="49.2" lengthAdjust="spacingAndGlyphs">Cumulative Survival</text><line x1="366.4" y1="182.9" x2="372.4" y2="182.9" stroke="#4589cb" stroke-width="0.9"/><line x1="366.4" y1="186.4" x2="372.4" y2="186.4" stroke="#ee3030" stroke-width="0.9"/><text x="374.0" y="184.1" font-size="3.3" textLength="32.0" lengthAdjust="spacingAndGlyphs" fill="#555">Low FAM3B Expression</text><text x="374.0" y="187.6" font-size="3.3" textLength="32.0" lengthAdjust="spacingAndGlyphs" fill="#555">High FAM3B Expression</text><polyline points="311.1,183.1 312.2,183.1 312.2,184.6 313.3,184.6 313.3,186.0 315.5,186.0 315.5,188.2 317.7,188.2 317.7,190.4 318.4,190.4 318.4,192.2 319.1,192.2 319.1,194.0 319.6,194.0 319.6,195.5 320.1,195.5 320.1,196.9 320.6,196.9 320.6,198.4 321.0,198.4 321.0,200.0 321.3,200.0 321.3,201.7 321.6,201.7 321.6,203.3 322.0,203.3 322.0,204.9 324.2,204.9 324.2,206.4 325.3,206.4 325.3,207.9 326.4,207.9 326.4,209.3 327.5,209.3 327.5,210.8 328.6,210.8 328.6,212.2 330.8,212.2 330.8,214.1 337.3,214.1 338.1,214.1 338.1,215.3 338.8,215.3 338.8,216.6 341.7,216.6 341.7,217.3 342.0,217.3 342.0,219.2 342.4,219.2 342.4,221.0 343.1,221.0 343.1,222.4 343.9,222.4 343.9,223.9 344.6,223.9 344.6,225.3 345.1,225.3 345.1,227.0 345.5,227.0 345.5,228.7 346.0,228.7 346.0,230.4 356.2,230.4 356.3,230.4 356.3,231.9 356.4,231.9 356.4,233.3 356.5,233.3 356.5,234.8 356.7,234.8 356.7,236.2 356.8,236.2 356.8,237.7 356.9,237.7 356.9,239.1 357.0,239.1 357.0,240.6 360.6,240.6 361.0,250.4 378.7,250.4" fill="none" stroke="#4589cb" stroke-width="1.2" stroke-linejoin="round"/><polyline points="311.1,183.1 314.0,183.1 314.0,185.3 315.4,185.3 315.4,186.8 316.9,186.8 316.9,188.2 319.8,188.2 319.8,189.7 320.9,189.7 320.9,191.1 322.0,191.1 322.0,192.6 324.9,192.6 324.9,194.0 327.8,194.0 327.8,194.7 329.3,194.7 329.3,195.5 330.0,195.5 330.0,197.7 356.2,197.7 356.7,204.9 361.0,204.9 361.3,229.5 371.3,229.5 371.3,239.1 404.5,239.1" fill="none" stroke="#ee3030" stroke-width="1.2" stroke-linejoin="round"/><text x="309.4" y="268.1" font-size="13.27" font-weight="bold" fill="#f86c4a" textLength="39.6" lengthAdjust="spacingAndGlyphs">p=0.013</text><text x="312.1" y="271.6" font-size="2.9" fill="#f33" textLength="27" lengthAdjust="spacingAndGlyphs">HR=0.385, p = 0.013</text></g>
<text x="7.1" y="316.3" font-size="12.8" font-weight="bold">C</text>
<text transform="translate(25.9,358.2) rotate(-90)" x="-17.3" y="0" font-size="12.6" font-weight="bold" textLength="34.6" lengthAdjust="spacingAndGlyphs">KRT19</text>
<g><rect x="53.3" y="315.4" width="100.2" height="95.0" fill="none" stroke="#b0b0b0" stroke-width="0.95"/><line x1="51.7" y1="407.0" x2="53.3" y2="407.0" stroke="#555" stroke-width="0.6"/><text transform="translate(48.7,407.0) rotate(-90)" x="-3.5" font-size="6.2" textLength="7.0" lengthAdjust="spacingAndGlyphs" fill="#222" stroke="#222" stroke-width="0.15">0.0</text><line x1="51.7" y1="389.5" x2="53.3" y2="389.5" stroke="#555" stroke-width="0.6"/><text transform="translate(48.7,389.5) rotate(-90)" x="-3.5" font-size="6.2" textLength="7.0" lengthAdjust="spacingAndGlyphs" fill="#222" stroke="#222" stroke-width="0.15">0.2</text><line x1="51.7" y1="371.9" x2="53.3" y2="371.9" stroke="#555" stroke-width="0.6"/><text transform="translate(48.7,371.9) rotate(-90)" x="-3.5" font-size="6.2" textLength="7.0" lengthAdjust="spacingAndGlyphs" fill="#222" stroke="#222" stroke-width="0.15">0.4</text><line x1="51.7" y1="354.4" x2="53.3" y2="354.4" stroke="#555" stroke-width="0.6"/><text transform="translate(48.7,354.4) rotate(-90)" x="-3.5" font-size="6.2" textLength="7.0" lengthAdjust="spacingAndGlyphs" fill="#222" stroke="#222" stroke-width="0.15">0.6</text><line x1="51.7" y1="336.8" x2="53.3" y2="336.8" stroke="#555" stroke-width="0.6"/><text transform="translate(48.7,336.8) rotate(-90)" x="-3.5" font-size="6.2" textLength="7.0" lengthAdjust="spacingAndGlyphs" fill="#222" stroke="#222" stroke-width="0.15">0.8</text><line x1="51.7" y1="319.3" x2="53.3" y2="319.3" stroke="#555" stroke-width="0.6"/><text transform="translate(48.7,319.3) rotate(-90)" x="-3.5" font-size="6.2" textLength="7.0" lengthAdjust="spacingAndGlyphs" fill="#222" stroke="#222" stroke-width="0.15">1.0</text><line x1="57.2" y1="410.4" x2="57.2" y2="412.2" stroke="#555" stroke-width="0.6"/><text x="57.2" y="418.8" font-size="6" text-anchor="middle" fill="#222" stroke="#222" stroke-width="0.15">0</text><line x1="82.6" y1="410.4" x2="82.6" y2="412.2" stroke="#555" stroke-width="0.6"/><text x="82.6" y="418.8" font-size="6" text-anchor="middle" fill="#222" stroke="#222" stroke-width="0.15">50</text><line x1="107.9" y1="410.4" x2="107.9" y2="412.2" stroke="#555" stroke-width="0.6"/><text x="107.9" y="418.8" font-size="6" text-anchor="middle" fill="#222" stroke="#222" stroke-width="0.15">100</text><line x1="133.2" y1="410.4" x2="133.2" y2="412.2" stroke="#555" stroke-width="0.6"/><text x="133.2" y="418.8" font-size="6" text-anchor="middle" fill="#222" stroke="#222" stroke-width="0.15">150</text><text x="103.3" y="427.4" font-size="5.4" text-anchor="middle" fill="#111" stroke="#111" stroke-width="0.18" textLength="66.4" lengthAdjust="spacingAndGlyphs">Time to Follow-Up (months)</text><text transform="translate(39.7,362.9) rotate(-90)" font-size="5.5" text-anchor="middle" fill="#222" stroke="#222" stroke-width="0.15" textLength="49.6" lengthAdjust="spacingAndGlyphs">Cumulative Survival</text><line x1="113.9" y1="319.1" x2="119.9" y2="319.1" stroke="#4589cb" stroke-width="0.9"/><line x1="113.9" y1="322.6" x2="119.9" y2="322.6" stroke="#ee3030" stroke-width="0.9"/><text x="121.5" y="320.3" font-size="3.3" textLength="30.8" lengthAdjust="spacingAndGlyphs" fill="#555">Low KRT19 Expression</text><text x="121.5" y="323.8" font-size="3.3" textLength="30.8" lengthAdjust="spacingAndGlyphs" fill="#555">High KRT19 Expression</text><polyline points="57.4,319.5 58.0,319.5 58.0,321.0 58.5,321.0 58.5,322.6 59.0,322.6 59.0,324.1 59.6,324.1 59.6,325.6 60.1,325.6 60.1,327.2 60.7,327.2 60.7,328.9 61.2,328.9 61.2,330.6 61.7,330.6 61.7,332.2 62.2,332.2 62.2,333.9 62.8,333.9 62.8,335.5 63.4,335.5 63.4,337.1 63.9,337.1 63.9,338.8 64.5,338.8 64.5,340.4 65.0,340.4 65.0,342.1 65.5,342.1 65.5,343.7 66.1,343.7 66.1,345.3 66.5,345.3 66.5,346.9 66.8,346.9 66.8,348.6 67.2,348.6 67.2,350.2 67.6,350.2 67.6,351.9 69.0,351.9 69.0,353.6 70.5,353.6 70.5,355.3 71.9,355.3 71.9,357.0 74.1,357.0 74.1,358.4 76.3,358.4 76.3,359.9 80.7,359.9 83.6,359.9 83.6,360.6 85.0,360.6 85.0,362.4 86.5,362.4 86.5,364.2 90.1,364.2 90.1,365.7 93.8,365.7 93.8,367.9 96.7,367.9 96.7,370.1 100.0,370.3 102.0,370.3 102.0,372.3 102.3,372.3 102.3,374.0 102.7,374.0 102.7,375.6 103.3,379.6 106.6,379.6 106.6,380.9 108.6,380.9 108.6,381.6 108.8,381.6 108.8,382.9 109.1,382.9 109.1,384.3 109.3,384.3 109.3,385.6 112.6,385.6 112.6,386.3 114.0,386.3 114.0,388.2 136.5,388.2 137.2,388.2 137.2,389.6 137.8,389.6 137.8,390.9 138.5,390.9 138.5,392.2 138.8,392.2 138.8,393.9 139.2,393.9 139.2,395.6 143.8,395.8 144.2,395.8 144.2,397.6 144.5,397.6 144.5,399.3 150.5,399.5" fill="none" stroke="#4589cb" stroke-width="1.2" stroke-linejoin="round"/><polyline points="57.4,319.5 58.0,319.5 58.0,321.0 58.5,321.0 58.5,322.6 59.0,322.6 59.0,324.1 59.6,324.1 59.6,325.6 60.1,325.6 60.1,327.2 60.7,327.2 60.7,328.9 61.2,328.9 61.2,330.6 61.7,330.6 61.7,332.2 62.2,332.2 62.2,333.9 62.8,333.9 62.8,335.5 63.4,335.5 63.4,337.1 63.9,337.1 63.9,338.8 64.5,338.8 64.5,340.4 65.0,340.4 65.0,342.1 65.5,342.1 65.5,343.7 66.1,343.7 66.1,345.3 67.5,345.3 67.5,347.1 69.0,347.1 69.0,349.0 70.8,349.0 70.8,350.8 72.7,350.8 72.7,352.6 74.5,352.6 74.5,354.4 76.3,354.4 76.3,356.2 80.0,356.2 80.0,358.4 82.1,358.4 82.1,360.6 84.3,360.6 84.3,362.8 85.4,362.8 85.4,364.6 86.5,364.6 86.5,366.4 87.6,366.4 87.6,368.2 88.7,368.2 88.7,370.1 92.3,370.1 92.3,372.2 93.8,372.2 93.8,373.7 95.2,373.7 95.2,375.2 97.4,375.2 97.4,376.6 99.6,376.6 99.6,378.1 101.3,378.1 101.3,380.3 106.0,380.7 106.4,386.3 136.5,386.3 136.5,407.5" fill="none" stroke="#ee3030" stroke-width="1.2" stroke-linejoin="round"/><text x="54.9" y="394.5" font-size="12.96" font-weight="bold" fill="#000" textLength="40.4" lengthAdjust="spacingAndGlyphs">p=0.927</text><text x="57.6" y="408.1" font-size="2.9" fill="#f33" textLength="27" lengthAdjust="spacingAndGlyphs">HR=1.16, p = 0.927</text></g>
<g><rect x="180.2" y="315.4" width="100.8" height="95.0" fill="none" stroke="#b0b0b0" stroke-width="0.95"/><line x1="178.6" y1="407.0" x2="180.2" y2="407.0" stroke="#555" stroke-width="0.6"/><text transform="translate(175.6,407.0) rotate(-90)" x="-3.5" font-size="6.2" textLength="7.0" lengthAdjust="spacingAndGlyphs" fill="#222" stroke="#222" stroke-width="0.15">0.0</text><line x1="178.6" y1="389.5" x2="180.2" y2="389.5" stroke="#555" stroke-width="0.6"/><text transform="translate(175.6,389.5) rotate(-90)" x="-3.5" font-size="6.2" textLength="7.0" lengthAdjust="spacingAndGlyphs" fill="#222" stroke="#222" stroke-width="0.15">0.2</text><line x1="178.6" y1="371.9" x2="180.2" y2="371.9" stroke="#555" stroke-width="0.6"/><text transform="translate(175.6,371.9) rotate(-90)" x="-3.5" font-size="6.2" textLength="7.0" lengthAdjust="spacingAndGlyphs" fill="#222" stroke="#222" stroke-width="0.15">0.4</text><line x1="178.6" y1="354.4" x2="180.2" y2="354.4" stroke="#555" stroke-width="0.6"/><text transform="translate(175.6,354.4) rotate(-90)" x="-3.5" font-size="6.2" textLength="7.0" lengthAdjust="spacingAndGlyphs" fill="#222" stroke="#222" stroke-width="0.15">0.6</text><line x1="178.6" y1="336.8" x2="180.2" y2="336.8" stroke="#555" stroke-width="0.6"/><text transform="translate(175.6,336.8) rotate(-90)" x="-3.5" font-size="6.2" textLength="7.0" lengthAdjust="spacingAndGlyphs" fill="#222" stroke="#222" stroke-width="0.15">0.8</text><line x1="178.6" y1="319.3" x2="180.2" y2="319.3" stroke="#555" stroke-width="0.6"/><text transform="translate(175.6,319.3) rotate(-90)" x="-3.5" font-size="6.2" textLength="7.0" lengthAdjust="spacingAndGlyphs" fill="#222" stroke="#222" stroke-width="0.15">1.0</text><line x1="184.2" y1="410.4" x2="184.2" y2="412.2" stroke="#555" stroke-width="0.6"/><text x="184.2" y="418.8" font-size="6" text-anchor="middle" fill="#222" stroke="#222" stroke-width="0.15">0</text><line x1="209.5" y1="410.4" x2="209.5" y2="412.2" stroke="#555" stroke-width="0.6"/><text x="209.5" y="418.8" font-size="6" text-anchor="middle" fill="#222" stroke="#222" stroke-width="0.15">50</text><line x1="234.8" y1="410.4" x2="234.8" y2="412.2" stroke="#555" stroke-width="0.6"/><text x="234.8" y="418.8" font-size="6" text-anchor="middle" fill="#222" stroke="#222" stroke-width="0.15">100</text><line x1="260.1" y1="410.4" x2="260.1" y2="412.2" stroke="#555" stroke-width="0.6"/><text x="260.1" y="418.8" font-size="6" text-anchor="middle" fill="#222" stroke="#222" stroke-width="0.15">150</text><text x="230.5" y="427.4" font-size="5.4" text-anchor="middle" fill="#111" stroke="#111" stroke-width="0.18" textLength="66.4" lengthAdjust="spacingAndGlyphs">Time to Follow-Up (months)</text><text transform="translate(166.6,362.9) rotate(-90)" font-size="5.5" text-anchor="middle" fill="#222" stroke="#222" stroke-width="0.15" textLength="49.6" lengthAdjust="spacingAndGlyphs">Cumulative Survival</text><line x1="241.4" y1="319.1" x2="247.4" y2="319.1" stroke="#4589cb" stroke-width="0.9"/><line x1="241.4" y1="322.6" x2="247.4" y2="322.6" stroke="#ee3030" stroke-width="0.9"/><text x="249.0" y="320.3" font-size="3.3" textLength="30.8" lengthAdjust="spacingAndGlyphs" fill="#555">Low KRT19 Expression</text><text x="249.0" y="323.8" font-size="3.3" textLength="30.8" lengthAdjust="spacingAndGlyphs" fill="#555">High KRT19 Expression</text><polyline points="184.1,319.5 184.7,319.5 184.7,321.0 185.3,321.0 185.3,322.6 186.0,322.6 186.0,324.1 186.6,324.1 186.6,325.6 187.0,325.6 187.0,327.1 187.4,327.1 187.4,328.5 187.9,328.5 187.9,330.0 188.3,330.0 188.3,331.4 188.7,331.4 188.7,332.9 189.1,332.9 189.1,334.4 189.6,334.4 189.6,335.8 190.0,335.8 190.0,337.3 190.5,337.3 190.5,338.7 190.9,338.7 190.9,340.2 191.4,340.2 191.4,341.6 192.0,341.6 192.0,343.1 192.6,343.1 192.6,344.6 193.1,344.6 193.1,346.0 193.8,346.0 193.8,347.5 194.6,347.5 194.6,348.9 195.3,348.9 195.3,350.4 196.8,350.4 196.8,352.2 198.2,352.2 198.2,354.0 200.4,354.0 200.4,355.5 202.6,355.5 202.6,357.0 206.2,357.0 206.2,357.7 210.6,357.7 210.6,359.1 212.1,359.1 212.1,360.6 213.5,360.6 213.5,362.1 218.6,362.1 218.6,362.8 219.7,362.8 219.7,364.2 220.8,364.2 220.8,365.7 224.4,365.7 224.4,366.4 227.3,366.4 227.3,368.6 228.0,368.6 228.0,369.6 230.0,369.6 230.0,370.3 230.4,377.6 235.3,378.0 235.5,378.0 235.5,379.4 235.7,379.4 235.7,380.8 235.8,380.8 235.8,382.2 236.0,382.2 236.0,383.6 264.5,383.6 264.7,383.6 264.7,385.1 265.0,385.1 265.0,386.7 265.2,386.7 265.2,388.2 266.5,388.2 266.5,388.9 266.7,388.9 266.7,390.2 267.0,390.2 267.0,391.6 267.2,391.6 267.2,392.9 271.2,393.2 271.6,397.2 277.2,397.5" fill="none" stroke="#4589cb" stroke-width="1.2" stroke-linejoin="round"/><polyline points="184.1,319.5 184.7,319.5 184.7,321.0 185.3,321.0 185.3,322.6 186.0,322.6 186.0,324.1 186.6,324.1 186.6,325.6 187.0,325.6 187.0,327.1 187.4,327.1 187.4,328.5 187.9,328.5 187.9,330.0 188.3,330.0 188.3,331.4 188.7,331.4 188.7,332.9 189.1,332.9 189.1,334.4 189.6,334.4 189.6,335.8 190.0,335.8 190.0,337.3 190.5,337.3 190.5,338.7 190.9,338.7 190.9,340.2 191.4,340.2 191.4,341.6 192.0,341.6 192.0,343.1 192.6,343.1 192.6,344.6 193.1,344.6 193.1,346.0 193.5,346.0 193.5,347.6 193.8,347.6 193.8,349.3 194.2,349.3 194.2,351.0 194.6,351.0 194.6,352.6 195.6,352.6 195.6,354.3 196.5,354.3 196.5,356.0 197.5,356.0 197.5,357.7 198.9,357.7 198.9,359.1 200.4,359.1 200.4,360.6 201.9,360.6 201.9,362.4 203.3,362.4 203.3,364.2 206.9,364.2 206.9,365.0 208.8,365.0 208.8,366.8 210.6,366.8 210.6,368.6 214.2,368.6 214.2,370.1 217.9,370.1 217.9,372.2 219.7,372.2 219.7,374.0 221.5,374.0 221.5,375.9 225.1,375.9 225.1,378.1 226.6,378.1 226.6,379.6 228.0,379.6 228.0,381.2 230.0,381.2 230.0,382.3 232.6,382.3 232.6,383.6 232.8,383.6 232.8,385.1 233.1,385.1 233.1,386.7 233.3,386.7 233.3,388.2 238.6,388.2 238.6,388.9 239.6,388.9 239.6,390.2 240.6,390.2 240.6,391.6 241.3,392.2 263.2,392.2 263.6,407.5" fill="none" stroke="#ee3030" stroke-width="1.2" stroke-linejoin="round"/><text x="182.4" y="394.8" font-size="12.81" font-weight="bold" fill="#000" textLength="32.3" lengthAdjust="spacingAndGlyphs">p=0.11</text><text x="185.1" y="408.1" font-size="2.9" fill="#f33" textLength="27" lengthAdjust="spacingAndGlyphs">HR=1.19, p = 0.11</text></g>
<g><rect x="307.3" y="315.4" width="99.9" height="95.0" fill="none" stroke="#b0b0b0" stroke-width="0.95"/><line x1="305.7" y1="407.0" x2="307.3" y2="407.0" stroke="#555" stroke-width="0.6"/><text transform="translate(302.7,407.0) rotate(-90)" x="-3.5" font-size="6.2" textLength="7.0" lengthAdjust="spacingAndGlyphs" fill="#222" stroke="#222" stroke-width="0.15">0.0</text><line x1="305.7" y1="389.5" x2="307.3" y2="389.5" stroke="#555" stroke-width="0.6"/><text transform="translate(302.7,389.5) rotate(-90)" x="-3.5" font-size="6.2" textLength="7.0" lengthAdjust="spacingAndGlyphs" fill="#222" stroke="#222" stroke-width="0.15">0.2</text><line x1="305.7" y1="371.9" x2="307.3" y2="371.9" stroke="#555" stroke-width="0.6"/><text transform="translate(302.7,371.9) rotate(-90)" x="-3.5" font-size="6.2" textLength="7.0" lengthAdjust="spacingAndGlyphs" fill="#222" stroke="#222" stroke-width="0.15">0.4</text><line x1="305.7" y1="354.4" x2="307.3" y2="354.4" stroke="#555" stroke-width="0.6"/><text transform="translate(302.7,354.4) rotate(-90)" x="-3.5" font-size="6.2" textLength="7.0" lengthAdjust="spacingAndGlyphs" fill="#222" stroke="#222" stroke-width="0.15">0.6</text><line x1="305.7" y1="336.8" x2="307.3" y2="336.8" stroke="#555" stroke-width="0.6"/><text transform="translate(302.7,336.8) rotate(-90)" x="-3.5" font-size="6.2" textLength="7.0" lengthAdjust="spacingAndGlyphs" fill="#222" stroke="#222" stroke-width="0.15">0.8</text><line x1="305.7" y1="319.3" x2="307.3" y2="319.3" stroke="#555" stroke-width="0.6"/><text transform="translate(302.7,319.3) rotate(-90)" x="-3.5" font-size="6.2" textLength="7.0" lengthAdjust="spacingAndGlyphs" fill="#222" stroke="#222" stroke-width="0.15">1.0</text><line x1="310.7" y1="410.4" x2="310.7" y2="412.2" stroke="#555" stroke-width="0.6"/><text x="310.7" y="418.8" font-size="6" text-anchor="middle" fill="#222" stroke="#222" stroke-width="0.15">0</text><line x1="328.0" y1="410.4" x2="328.0" y2="412.2" stroke="#555" stroke-width="0.6"/><text x="328.0" y="418.8" font-size="6" text-anchor="middle" fill="#222" stroke="#222" stroke-width="0.15">20</text><line x1="345.3" y1="410.4" x2="345.3" y2="412.2" stroke="#555" stroke-width="0.6"/><text x="345.3" y="418.8" font-size="6" text-anchor="middle" fill="#222" stroke="#222" stroke-width="0.15">40</text><line x1="362.5" y1="410.4" x2="362.5" y2="412.2" stroke="#555" stroke-width="0.6"/><text x="362.5" y="418.8" font-size="6" text-anchor="middle" fill="#222" stroke="#222" stroke-width="0.15">60</text><line x1="379.8" y1="410.4" x2="379.8" y2="412.2" stroke="#555" stroke-width="0.6"/><text x="379.8" y="418.8" font-size="6" text-anchor="middle" fill="#222" stroke="#222" stroke-width="0.15">80</text><line x1="397.1" y1="410.4" x2="397.1" y2="412.2" stroke="#555" stroke-width="0.6"/><text x="397.1" y="418.8" font-size="6" text-anchor="middle" fill="#222" stroke="#222" stroke-width="0.15">100</text><text x="357.1" y="427.4" font-size="5.4" text-anchor="middle" fill="#111" stroke="#111" stroke-width="0.18" textLength="66.4" lengthAdjust="spacingAndGlyphs">Time to Follow-Up (months)</text><text transform="translate(293.7,362.9) rotate(-90)" font-size="5.5" text-anchor="middle" fill="#222" stroke="#222" stroke-width="0.15" textLength="49.6" lengthAdjust="spacingAndGlyphs">Cumulative Survival</text><line x1="367.6" y1="319.1" x2="373.6" y2="319.1" stroke="#4589cb" stroke-width="0.9"/><line x1="367.6" y1="322.6" x2="373.6" y2="322.6" stroke="#ee3030" stroke-width="0.9"/><text x="375.2" y="320.3" font-size="3.3" textLength="30.8" lengthAdjust="spacingAndGlyphs" fill="#555">Low KRT19 Expression</text><text x="375.2" y="323.8" font-size="3.3" textLength="30.8" lengthAdjust="spacingAndGlyphs" fill="#555">High KRT19 Expression</text><polyline points="311.1,319.5 312.2,319.5 312.2,320.8 313.3,320.8 313.3,322.0 314.4,322.0 314.4,323.4 315.5,323.4 315.5,324.9 317.7,324.9 317.7,327.1 319.8,327.1 319.8,329.3 320.6,329.3 320.6,330.8 321.3,330.8 321.3,332.2 321.5,332.2 321.5,333.9 321.8,333.9 321.8,335.6 322.0,335.6 322.0,337.3 322.2,337.3 322.2,338.8 322.5,338.8 322.5,340.2 322.7,340.2 322.7,341.7 324.9,341.7 324.9,343.9 326.4,343.9 326.4,345.4 327.8,345.4 327.8,346.8 330.0,346.8 330.0,349.0 331.5,349.0 331.5,350.4 341.0,350.4 341.7,350.4 341.7,351.9 342.4,351.9 342.4,353.3 344.6,353.3 344.6,354.0 345.0,354.0 345.0,355.9 345.3,355.9 345.3,357.7 356.2,357.7 356.2,358.4 356.3,358.4 356.3,360.0 356.5,360.0 356.5,361.6 356.6,361.6 356.6,363.1 356.7,363.1 356.7,364.7 356.9,364.7 356.9,366.3 357.0,366.3 357.0,367.9 360.6,367.9 360.6,368.6 360.7,368.6 360.7,370.1 360.8,370.1 360.8,371.6 360.9,371.6 360.9,373.1 361.0,373.1 361.0,374.6 361.0,374.6 361.0,376.0 361.1,376.0 361.1,377.5 361.2,377.5 361.2,379.0 361.3,379.0 361.3,380.5 378.7,380.5" fill="none" stroke="#4589cb" stroke-width="1.2" stroke-linejoin="round"/><polyline points="311.1,319.5 313.3,319.5 313.3,320.6 314.4,320.6 314.4,322.1 315.5,322.1 315.5,323.5 316.9,323.5 316.9,325.6 319.8,325.6 319.8,327.8 322.0,327.8 322.0,330.0 324.9,330.0 324.9,331.5 328.6,331.5 328.6,332.2 330.0,332.2 330.0,334.4 336.6,334.4 337.0,334.4 337.0,336.2 337.3,336.2 337.3,338.0 343.1,338.0 343.4,338.0 343.4,339.7 343.6,339.7 343.6,341.4 343.9,341.4 343.9,343.1 356.2,343.1 356.4,343.1 356.4,344.8 356.6,344.8 356.6,346.4 356.8,346.4 356.8,348.1 357.0,348.1 357.0,349.7 360.6,349.7 360.7,349.7 360.7,351.2 360.7,351.2 360.7,352.7 360.8,352.7 360.8,354.3 360.8,354.3 360.8,355.8 360.9,355.8 360.9,357.3 360.9,357.3 360.9,358.8 361.0,358.8 361.0,360.4 361.0,360.4 361.0,361.9 361.1,361.9 361.1,363.4 361.1,363.4 361.1,364.9 361.2,364.9 361.2,366.4 361.2,366.4 361.2,368.0 361.2,368.0 361.2,369.5 361.3,369.5 361.3,371.0 371.3,371.0 371.3,380.5 404.5,380.5" fill="none" stroke="#ee3030" stroke-width="1.2" stroke-linejoin="round"/><text x="309.4" y="394.5" font-size="12.96" font-weight="bold" fill="#000" textLength="38.9" lengthAdjust="spacingAndGlyphs">p=0.118</text><text x="312.1" y="408.1" font-size="2.9" fill="#f33" textLength="27" lengthAdjust="spacingAndGlyphs">HR=0.595, p = 0.118</text></g>
<text x="6.6" y="443.5" font-size="12.8" font-weight="bold">D</text>
<text transform="translate(25.9,477.7) rotate(-90)" x="-15.1" y="0" font-size="12.6" font-weight="bold" textLength="30.2" lengthAdjust="spacingAndGlyphs">NEFH</text>
<g><rect x="52.7" y="441.4" width="92.1" height="87.5" fill="none" stroke="#b0b0b0" stroke-width="0.95"/><line x1="51.1" y1="526.4" x2="52.7" y2="526.4" stroke="#555" stroke-width="0.6"/><text transform="translate(48.1,526.4) rotate(-90)" x="-3.5" font-size="6.2" textLength="7.0" lengthAdjust="spacingAndGlyphs" fill="#222" stroke="#222" stroke-width="0.15">0.0</text><line x1="51.1" y1="510.0" x2="52.7" y2="510.0" stroke="#555" stroke-width="0.6"/><text transform="translate(48.1,510.0) rotate(-90)" x="-3.5" font-size="6.2" textLength="7.0" lengthAdjust="spacingAndGlyphs" fill="#222" stroke="#222" stroke-width="0.15">0.2</text><line x1="51.1" y1="493.6" x2="52.7" y2="493.6" stroke="#555" stroke-width="0.6"/><text transform="translate(48.1,493.6) rotate(-90)" x="-3.5" font-size="6.2" textLength="7.0" lengthAdjust="spacingAndGlyphs" fill="#222" stroke="#222" stroke-width="0.15">0.4</text><line x1="51.1" y1="477.2" x2="52.7" y2="477.2" stroke="#555" stroke-width="0.6"/><text transform="translate(48.1,477.2) rotate(-90)" x="-3.5" font-size="6.2" textLength="7.0" lengthAdjust="spacingAndGlyphs" fill="#222" stroke="#222" stroke-width="0.15">0.6</text><line x1="51.1" y1="460.8" x2="52.7" y2="460.8" stroke="#555" stroke-width="0.6"/><text transform="translate(48.1,460.8) rotate(-90)" x="-3.5" font-size="6.2" textLength="7.0" lengthAdjust="spacingAndGlyphs" fill="#222" stroke="#222" stroke-width="0.15">0.8</text><line x1="51.1" y1="444.4" x2="52.7" y2="444.4" stroke="#555" stroke-width="0.6"/><text transform="translate(48.1,444.4) rotate(-90)" x="-3.5" font-size="6.2" textLength="7.0" lengthAdjust="spacingAndGlyphs" fill="#222" stroke="#222" stroke-width="0.15">1.0</text><line x1="55.1" y1="528.9" x2="55.1" y2="530.7" stroke="#555" stroke-width="0.6"/><text x="55.1" y="536.9" font-size="6" text-anchor="middle" fill="#222" stroke="#222" stroke-width="0.15">0</text><line x1="78.3" y1="528.9" x2="78.3" y2="530.7" stroke="#555" stroke-width="0.6"/><text x="78.3" y="536.9" font-size="6" text-anchor="middle" fill="#222" stroke="#222" stroke-width="0.15">50</text><line x1="101.5" y1="528.9" x2="101.5" y2="530.7" stroke="#555" stroke-width="0.6"/><text x="101.5" y="536.9" font-size="6" text-anchor="middle" fill="#222" stroke="#222" stroke-width="0.15">100</text><line x1="124.7" y1="528.9" x2="124.7" y2="530.7" stroke="#555" stroke-width="0.6"/><text x="124.7" y="536.9" font-size="6" text-anchor="middle" fill="#222" stroke="#222" stroke-width="0.15">150</text><text x="98.7" y="545.5" font-size="5.4" text-anchor="middle" fill="#111" stroke="#111" stroke-width="0.18" textLength="60.8" lengthAdjust="spacingAndGlyphs">Time to Follow-Up (months)</text><text transform="translate(39.1,485.1) rotate(-90)" font-size="5.5" text-anchor="middle" fill="#222" stroke="#222" stroke-width="0.15" textLength="47.2" lengthAdjust="spacingAndGlyphs">Cumulative Survival</text><line x1="105.8" y1="444.7" x2="111.8" y2="444.7" stroke="#4589cb" stroke-width="0.9"/><line x1="105.8" y1="448.4" x2="111.8" y2="448.4" stroke="#ee3030" stroke-width="0.9"/><text x="113.4" y="445.9" font-size="3.3" textLength="30.2" lengthAdjust="spacingAndGlyphs" fill="#555">Low NEFH Expression</text><text x="113.4" y="449.6" font-size="3.3" textLength="30.2" lengthAdjust="spacingAndGlyphs" fill="#555">High NEFH Expression</text><polyline points="55.4,444.7 56.0,444.7 56.0,446.1 56.6,446.1 56.6,447.5 57.1,447.5 57.1,448.9 57.7,448.9 57.7,450.3 58.3,450.3 58.3,451.7 59.0,451.7 59.0,453.4 59.8,453.4 59.8,455.0 60.2,455.0 60.2,456.4 60.5,456.4 60.5,457.9 60.9,457.9 60.9,459.3 61.2,459.3 61.2,460.8 61.6,460.8 61.6,462.2 62.0,462.2 62.0,463.7 62.4,463.7 62.4,465.1 62.7,465.1 62.7,466.6 63.1,466.6 63.1,468.0 63.5,468.0 63.5,469.5 64.1,469.5 64.1,471.1 64.7,471.1 64.7,472.7 65.3,472.7 65.3,474.3 66.8,474.3 66.8,475.5 68.3,475.5 68.3,476.7 70.1,476.7 70.1,478.5 71.9,478.5 71.9,480.4 74.3,480.4 74.3,482.2 77.9,482.2 77.9,482.8 79.2,482.8 79.2,484.6 80.4,484.6 80.4,486.4 81.9,486.4 81.9,487.9 83.4,487.9 83.4,489.4 86.4,489.4 86.4,491.2 88.2,491.2 88.2,492.8 90.0,492.8 90.0,494.3 94.7,494.3 94.7,495.3 96.2,495.3 96.2,496.8 97.6,496.8 97.6,498.2 98.3,498.2 98.3,499.9 99.1,499.9 99.1,501.6 99.8,501.6 99.8,503.3 102.0,503.3 102.0,504.8 102.4,504.8 102.4,506.5 102.9,506.5 102.9,508.2 103.3,508.2 103.3,509.9 130.9,509.9 131.6,509.9 131.6,510.6 131.8,515.3 136.7,515.3 136.9,520.4 141.7,520.4" fill="none" stroke="#4589cb" stroke-width="1.2" stroke-linejoin="round"/><polyline points="55.4,444.7 56.0,444.7 56.0,446.1 56.6,446.1 56.6,447.5 57.1,447.5 57.1,448.9 57.7,448.9 57.7,450.3 58.3,450.3 58.3,451.7 59.0,451.7 59.0,453.4 59.8,453.4 59.8,455.0 60.3,455.0 60.3,456.4 60.8,456.4 60.8,457.9 61.2,457.9 61.2,459.3 61.7,459.3 61.7,460.8 62.2,460.8 62.2,462.2 62.8,462.2 62.8,463.7 63.5,463.7 63.5,465.2 64.1,465.2 64.1,466.8 64.7,466.8 64.7,468.3 65.3,468.3 65.3,469.7 65.9,469.7 65.9,471.1 66.5,471.1 66.5,472.5 68.0,472.5 68.0,474.0 69.5,474.0 69.5,475.5 71.3,475.5 71.3,477.1 73.1,477.1 73.1,478.6 76.1,478.6 76.1,480.4 79.8,480.4 79.8,482.2 81.0,482.2 81.0,483.7 82.2,483.7 82.2,485.2 83.4,485.2 83.4,487.0 84.6,487.0 84.6,488.8 85.8,488.8 85.8,490.0 87.0,490.0 87.0,491.2 88.5,491.2 88.5,492.8 90.0,492.8 90.0,494.3 94.3,494.9 95.5,494.9 95.5,496.4 96.7,496.4 96.7,497.9 97.5,497.9 97.5,499.2 98.3,499.2 98.3,500.5 99.1,500.5 99.1,501.8 106.6,502.0 106.9,502.0 106.9,503.8 107.3,503.8 107.3,505.5 128.7,505.5 128.9,512.0 129.8,512.4 130.1,518.9 137.8,518.9" fill="none" stroke="#ee3030" stroke-width="1.2" stroke-linejoin="round"/><text x="55.1" y="521.3" font-size="13.42" font-weight="bold" fill="#000" textLength="39.6" lengthAdjust="spacingAndGlyphs">p=0.367</text><text x="57.8" y="527.4" font-size="2.9" fill="#f33" textLength="27" lengthAdjust="spacingAndGlyphs">HR=0.845, p = 0.367</text></g>
<g><rect x="180.2" y="441.4" width="100.8" height="87.5" fill="none" stroke="#b0b0b0" stroke-width="0.95"/><line x1="178.6" y1="526.4" x2="180.2" y2="526.4" stroke="#555" stroke-width="0.6"/><text transform="translate(175.6,526.4) rotate(-90)" x="-3.5" font-size="6.2" textLength="7.0" lengthAdjust="spacingAndGlyphs" fill="#222" stroke="#222" stroke-width="0.15">0.0</text><line x1="178.6" y1="510.0" x2="180.2" y2="510.0" stroke="#555" stroke-width="0.6"/><text transform="translate(175.6,510.0) rotate(-90)" x="-3.5" font-size="6.2" textLength="7.0" lengthAdjust="spacingAndGlyphs" fill="#222" stroke="#222" stroke-width="0.15">0.2</text><line x1="178.6" y1="493.6" x2="180.2" y2="493.6" stroke="#555" stroke-width="0.6"/><text transform="translate(175.6,493.6) rotate(-90)" x="-3.5" font-size="6.2" textLength="7.0" lengthAdjust="spacingAndGlyphs" fill="#222" stroke="#222" stroke-width="0.15">0.4</text><line x1="178.6" y1="477.2" x2="180.2" y2="477.2" stroke="#555" stroke-width="0.6"/><text transform="translate(175.6,477.2) rotate(-90)" x="-3.5" font-size="6.2" textLength="7.0" lengthAdjust="spacingAndGlyphs" fill="#222" stroke="#222" stroke-width="0.15">0.6</text><line x1="178.6" y1="460.8" x2="180.2" y2="460.8" stroke="#555" stroke-width="0.6"/><text transform="translate(175.6,460.8) rotate(-90)" x="-3.5" font-size="6.2" textLength="7.0" lengthAdjust="spacingAndGlyphs" fill="#222" stroke="#222" stroke-width="0.15">0.8</text><line x1="178.6" y1="444.4" x2="180.2" y2="444.4" stroke="#555" stroke-width="0.6"/><text transform="translate(175.6,444.4) rotate(-90)" x="-3.5" font-size="6.2" textLength="7.0" lengthAdjust="spacingAndGlyphs" fill="#222" stroke="#222" stroke-width="0.15">1.0</text><line x1="184.2" y1="528.9" x2="184.2" y2="530.7" stroke="#555" stroke-width="0.6"/><text x="184.2" y="536.9" font-size="6" text-anchor="middle" fill="#222" stroke="#222" stroke-width="0.15">0</text><line x1="209.5" y1="528.9" x2="209.5" y2="530.7" stroke="#555" stroke-width="0.6"/><text x="209.5" y="536.9" font-size="6" text-anchor="middle" fill="#222" stroke="#222" stroke-width="0.15">50</text><line x1="234.8" y1="528.9" x2="234.8" y2="530.7" stroke="#555" stroke-width="0.6"/><text x="234.8" y="536.9" font-size="6" text-anchor="middle" fill="#222" stroke="#222" stroke-width="0.15">100</text><line x1="260.1" y1="528.9" x2="260.1" y2="530.7" stroke="#555" stroke-width="0.6"/><text x="260.1" y="536.9" font-size="6" text-anchor="middle" fill="#222" stroke="#222" stroke-width="0.15">150</text><text x="230.5" y="545.5" font-size="5.4" text-anchor="middle" fill="#111" stroke="#111" stroke-width="0.18" textLength="66.4" lengthAdjust="spacingAndGlyphs">Time to Follow-Up (months)</text><text transform="translate(166.6,485.1) rotate(-90)" font-size="5.5" text-anchor="middle" fill="#222" stroke="#222" stroke-width="0.15" textLength="47.2" lengthAdjust="spacingAndGlyphs">Cumulative Survival</text><line x1="242.0" y1="444.7" x2="248.0" y2="444.7" stroke="#4589cb" stroke-width="0.9"/><line x1="242.0" y1="448.4" x2="248.0" y2="448.4" stroke="#ee3030" stroke-width="0.9"/><text x="249.6" y="445.9" font-size="3.3" textLength="30.2" lengthAdjust="spacingAndGlyphs" fill="#555">Low NEFH Expression</text><text x="249.6" y="449.6" font-size="3.3" textLength="30.2" lengthAdjust="spacingAndGlyphs" fill="#555">High NEFH Expression</text><polyline points="183.8,444.7 184.4,444.7 184.4,446.1 184.9,446.1 184.9,447.4 185.4,447.4 185.4,448.8 186.0,448.8 186.0,450.2 186.6,450.2 186.6,451.6 187.1,451.6 187.1,453.1 187.6,453.1 187.6,454.6 188.2,454.6 188.2,456.0 188.8,456.0 188.8,457.6 189.3,457.6 189.3,459.3 189.8,459.3 189.8,461.0 190.4,461.0 190.4,462.6 190.9,462.6 190.9,464.2 191.5,464.2 191.5,465.9 192.1,465.9 192.1,467.5 192.6,467.5 192.6,469.1 193.3,469.1 193.3,470.8 194.0,470.8 194.0,472.5 194.7,472.5 194.7,474.2 196.2,474.2 196.2,476.0 197.7,476.0 197.7,477.9 199.5,477.9 199.5,479.7 201.3,479.7 201.3,481.5 204.9,481.5 204.9,483.0 208.6,483.0 208.6,484.4 212.2,484.4 212.2,486.6 215.9,486.6 215.9,488.8 217.3,488.8 217.3,490.2 218.8,490.2 218.8,492.0 220.2,492.0 220.2,493.9 224.6,493.9 224.6,496.1 228.0,496.1 228.0,498.3 230.7,498.3 232.0,498.3 232.0,500.3 232.4,500.3 232.4,501.8 232.9,501.8 232.9,503.4 233.3,503.4 233.3,504.9 235.3,504.9 235.3,506.3 235.5,506.3 235.5,507.8 235.8,507.8 235.8,509.4 236.0,509.4 236.0,510.9 265.9,510.9 266.1,510.9 266.1,512.5 266.3,512.5 266.3,514.2 266.5,514.2 266.5,515.8 271.2,515.8 271.4,515.8 271.4,517.4 271.6,517.4 271.6,519.0 271.8,519.0 271.8,520.6 277.2,520.6" fill="none" stroke="#4589cb" stroke-width="1.2" stroke-linejoin="round"/><polyline points="183.8,444.7 184.4,444.7 184.4,446.1 184.9,446.1 184.9,447.4 185.4,447.4 185.4,448.8 186.0,448.8 186.0,450.2 186.6,450.2 186.6,451.6 187.1,451.6 187.1,453.1 187.6,453.1 187.6,454.6 188.2,454.6 188.2,456.0 188.8,456.0 188.8,457.6 189.3,457.6 189.3,459.3 189.8,459.3 189.8,461.0 190.4,461.0 190.4,462.6 190.9,462.6 190.9,464.2 191.5,464.2 191.5,465.9 192.1,465.9 192.1,467.5 192.6,467.5 192.6,469.1 193.3,469.1 193.3,470.8 194.0,470.8 194.0,472.5 194.7,472.5 194.7,474.2 196.2,474.2 196.2,476.0 197.7,476.0 197.7,477.9 199.5,477.9 199.5,479.7 201.3,479.7 201.3,481.5 204.9,481.5 204.9,483.0 208.6,483.0 208.6,484.4 212.2,484.4 212.2,486.6 215.9,486.6 215.9,488.8 218.8,488.8 218.8,490.2 221.7,490.2 221.7,491.7 224.6,491.7 224.6,492.4 227.5,492.4 227.5,493.9 228.0,495.6 230.0,495.6 230.0,497.0 230.2,497.0 230.2,498.3 230.3,498.3 230.3,499.6 230.5,499.6 230.5,501.0 230.7,501.0 230.7,502.3 240.0,502.3 240.6,505.6 263.2,505.6 263.4,505.6 263.4,506.9 263.5,506.9 263.5,508.2 263.7,508.2 263.7,509.6 263.9,509.6 263.9,510.9 264.0,510.9 264.0,512.3 264.1,512.3 264.1,513.7 264.2,513.7 264.2,515.1 264.3,515.1 264.3,516.5 264.4,516.5 264.4,517.9 264.5,517.9 264.5,519.3 273.2,519.3" fill="none" stroke="#ee3030" stroke-width="1.2" stroke-linejoin="round"/><text x="182.4" y="521.5" font-size="13.73" font-weight="bold" fill="#000" textLength="39.6" lengthAdjust="spacingAndGlyphs">p=0.891</text><text x="185.1" y="527.4" font-size="2.9" fill="#f33" textLength="27" lengthAdjust="spacingAndGlyphs">HR=0.981, p = 0.891</text></g>
<g><rect x="307.3" y="441.4" width="99.9" height="87.5" fill="none" stroke="#b0b0b0" stroke-width="0.95"/><line x1="305.7" y1="526.4" x2="307.3" y2="526.4" stroke="#555" stroke-width="0.6"/><text transform="translate(302.7,526.4) rotate(-90)" x="-3.5" font-size="6.2" textLength="7.0" lengthAdjust="spacingAndGlyphs" fill="#222" stroke="#222" stroke-width="0.15">0.0</text><line x1="305.7" y1="510.0" x2="307.3" y2="510.0" stroke="#555" stroke-width="0.6"/><text transform="translate(302.7,510.0) rotate(-90)" x="-3.5" font-size="6.2" textLength="7.0" lengthAdjust="spacingAndGlyphs" fill="#222" stroke="#222" stroke-width="0.15">0.2</text><line x1="305.7" y1="493.6" x2="307.3" y2="493.6" stroke="#555" stroke-width="0.6"/><text transform="translate(302.7,493.6) rotate(-90)" x="-3.5" font-size="6.2" textLength="7.0" lengthAdjust="spacingAndGlyphs" fill="#222" stroke="#222" stroke-width="0.15">0.4</text><line x1="305.7" y1="477.2" x2="307.3" y2="477.2" stroke="#555" stroke-width="0.6"/><text transform="translate(302.7,477.2) rotate(-90)" x="-3.5" font-size="6.2" textLength="7.0" lengthAdjust="spacingAndGlyphs" fill="#222" stroke="#222" stroke-width="0.15">0.6</text><line x1="305.7" y1="460.8" x2="307.3" y2="460.8" stroke="#555" stroke-width="0.6"/><text transform="translate(302.7,460.8) rotate(-90)" x="-3.5" font-size="6.2" textLength="7.0" lengthAdjust="spacingAndGlyphs" fill="#222" stroke="#222" stroke-width="0.15">0.8</text><line x1="305.7" y1="444.4" x2="307.3" y2="444.4" stroke="#555" stroke-width="0.6"/><text transform="translate(302.7,444.4) rotate(-90)" x="-3.5" font-size="6.2" textLength="7.0" lengthAdjust="spacingAndGlyphs" fill="#222" stroke="#222" stroke-width="0.15">1.0</text><line x1="310.7" y1="528.9" x2="310.7" y2="530.7" stroke="#555" stroke-width="0.6"/><text x="310.7" y="536.9" font-size="6" text-anchor="middle" fill="#222" stroke="#222" stroke-width="0.15">0</text><line x1="328.0" y1="528.9" x2="328.0" y2="530.7" stroke="#555" stroke-width="0.6"/><text x="328.0" y="536.9" font-size="6" text-anchor="middle" fill="#222" stroke="#222" stroke-width="0.15">20</text><line x1="345.3" y1="528.9" x2="345.3" y2="530.7" stroke="#555" stroke-width="0.6"/><text x="345.3" y="536.9" font-size="6" text-anchor="middle" fill="#222" stroke="#222" stroke-width="0.15">40</text><line x1="362.5" y1="528.9" x2="362.5" y2="530.7" stroke="#555" stroke-width="0.6"/><text x="362.5" y="536.9" font-size="6" text-anchor="middle" fill="#222" stroke="#222" stroke-width="0.15">60</text><line x1="379.8" y1="528.9" x2="379.8" y2="530.7" stroke="#555" stroke-width="0.6"/><text x="379.8" y="536.9" font-size="6" text-anchor="middle" fill="#222" stroke="#222" stroke-width="0.15">80</text><line x1="397.1" y1="528.9" x2="397.1" y2="530.7" stroke="#555" stroke-width="0.6"/><text x="397.1" y="536.9" font-size="6" text-anchor="middle" fill="#222" stroke="#222" stroke-width="0.15">100</text><text x="357.1" y="545.5" font-size="5.4" text-anchor="middle" fill="#111" stroke="#111" stroke-width="0.18" textLength="66.4" lengthAdjust="spacingAndGlyphs">Time to Follow-Up (months)</text><text transform="translate(293.7,485.1) rotate(-90)" font-size="5.5" text-anchor="middle" fill="#222" stroke="#222" stroke-width="0.15" textLength="47.2" lengthAdjust="spacingAndGlyphs">Cumulative Survival</text><line x1="368.2" y1="444.7" x2="374.2" y2="444.7" stroke="#4589cb" stroke-width="0.9"/><line x1="368.2" y1="448.4" x2="374.2" y2="448.4" stroke="#ee3030" stroke-width="0.9"/><text x="375.8" y="445.9" font-size="3.3" textLength="30.2" lengthAdjust="spacingAndGlyphs" fill="#555">Low NEFH Expression</text><text x="375.8" y="449.6" font-size="3.3" textLength="30.2" lengthAdjust="spacingAndGlyphs" fill="#555">High NEFH Expression</text><polyline points="310.7,445.1 311.6,445.1 311.6,446.9 312.6,446.9 312.6,448.7 314.7,448.7 314.7,450.9 316.9,450.9 316.9,452.4 318.0,452.4 318.0,454.2 319.1,454.2 319.1,456.0 319.6,456.0 319.6,457.5 320.1,457.5 320.1,458.9 320.6,458.9 320.6,460.4 321.0,460.4 321.0,462.0 321.3,462.0 321.3,463.6 321.6,463.6 321.6,465.3 322.0,465.3 322.0,466.9 324.2,466.9 324.2,469.1 325.6,469.1 325.6,470.6 327.1,470.6 327.1,472.0 329.3,472.0 329.3,474.2 330.8,474.2 330.8,474.9 343.1,474.9 343.5,474.9 343.5,476.8 343.9,476.8 343.9,478.6 344.6,478.6 344.6,480.1 345.3,480.1 345.3,481.5 346.0,481.5 346.0,482.5 356.2,482.5 356.3,482.5 356.3,484.0 356.4,484.0 356.4,485.5 356.5,485.5 356.5,487.0 356.6,487.0 356.6,488.6 356.7,488.6 356.7,490.1 356.8,490.1 356.8,491.6 356.9,491.6 356.9,493.1 357.0,493.1 357.0,494.6 361.3,494.6 361.6,507.0 391.0,507.0" fill="none" stroke="#4589cb" stroke-width="1.2" stroke-linejoin="round"/><polyline points="310.7,445.1 313.3,445.1 313.3,446.6 316.2,446.6 316.2,448.7 319.1,448.7 319.1,450.2 322.0,450.2 322.0,452.4 324.9,452.4 324.9,453.8 327.8,453.8 327.8,454.6 329.3,454.6 329.3,456.0 330.0,456.0 330.0,457.5 337.3,457.5 337.6,457.5 337.6,458.9 338.0,458.9 338.0,460.4 341.7,460.4 341.7,461.1 341.9,461.1 341.9,462.4 342.2,462.4 342.2,463.7 342.4,463.7 342.4,465.0 360.6,465.0 361.0,474.9 361.1,474.9 361.1,476.4 361.2,476.4 361.2,477.8 361.3,477.8 361.3,479.3 361.3,479.3 361.3,480.7 361.4,480.7 361.4,482.2 361.5,482.2 361.5,483.6 361.6,483.6 361.6,485.1 371.3,485.1 371.3,494.9 404.5,494.9" fill="none" stroke="#ee3030" stroke-width="1.2" stroke-linejoin="round"/><text x="309.4" y="521.2" font-size="13.27" font-weight="bold" fill="#f86c4a" textLength="38.9" lengthAdjust="spacingAndGlyphs">p=0.021</text><text x="312.1" y="527.4" font-size="2.9" fill="#f33" textLength="27" lengthAdjust="spacingAndGlyphs">HR=0.366, p = 0.021</text></g>
</svg></body></html>
